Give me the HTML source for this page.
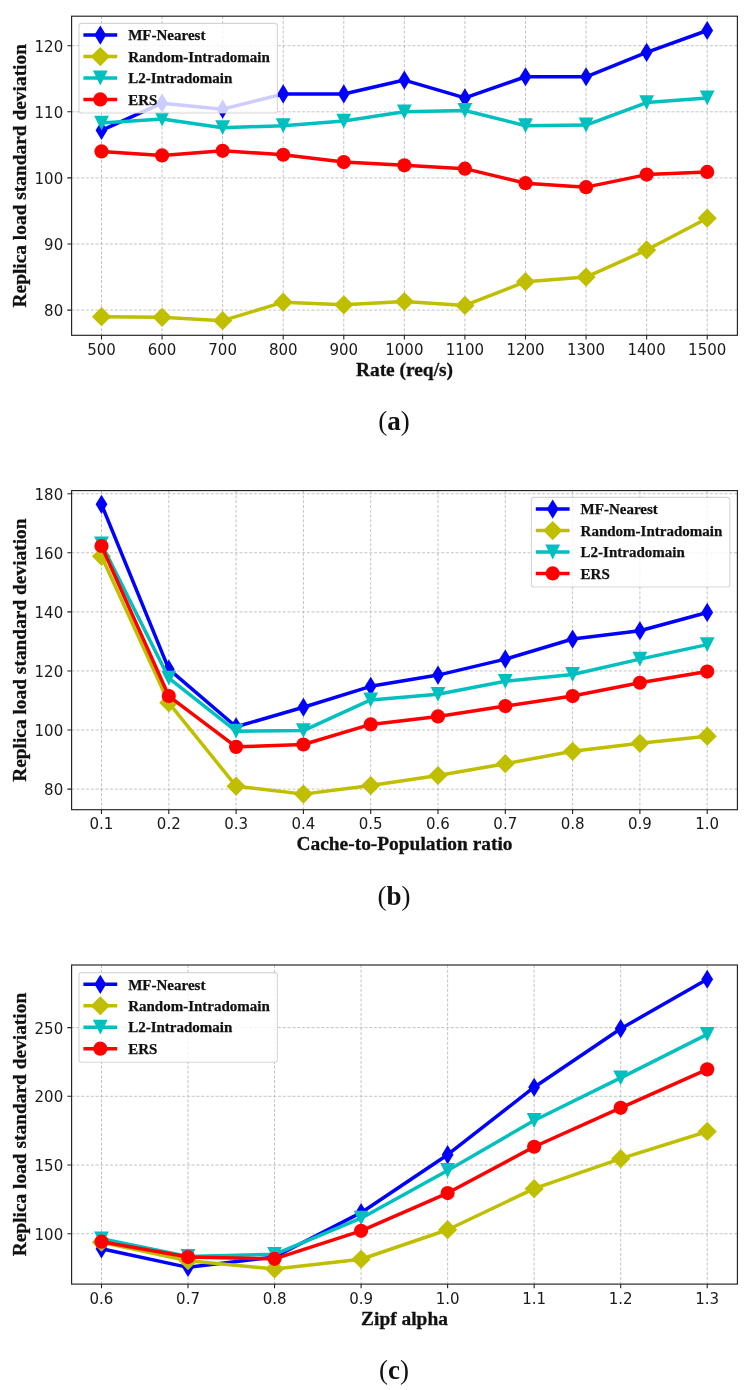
<!DOCTYPE html>
<html lang="en">
<head>
<meta charset="utf-8">
<title>Replica load standard deviation</title>
<style>
html,body{margin:0;padding:0;background:#fff;}
body{width:748px;height:1390px;overflow:hidden;}
svg{display:block;}
</style>
</head>
<body>
<svg width="748" height="1390" viewBox="0 0 748 1390">
<rect width="748" height="1390" fill="#fff"/>
<g>
<path d="M101.5 16.2V335.3M162.07 16.2V335.3M222.64 16.2V335.3M283.21 16.2V335.3M343.78 16.2V335.3M404.35 16.2V335.3M464.92 16.2V335.3M525.49 16.2V335.3M586.06 16.2V335.3M646.63 16.2V335.3M707.2 16.2V335.3M71.6 310.1H737.4M71.6 244H737.4M71.6 177.9H737.4M71.6 111.8H737.4M71.6 45.7H737.4" stroke="#b4b4b4" stroke-width="0.8" stroke-dasharray="3 1.8" fill="none"/>
<path d="M101.5 335.3v4.2M162.07 335.3v4.2M222.64 335.3v4.2M283.21 335.3v4.2M343.78 335.3v4.2M404.35 335.3v4.2M464.92 335.3v4.2M525.49 335.3v4.2M586.06 335.3v4.2M646.63 335.3v4.2M707.2 335.3v4.2M71.6 310.1h-4.2M71.6 244h-4.2M71.6 177.9h-4.2M71.6 111.8h-4.2M71.6 45.7h-4.2" stroke="#222" stroke-width="1.1" fill="none"/>
<polyline points="101.5,130.31 162.07,103.21 222.64,109.16 283.21,93.95 343.78,93.95 404.35,80.07 464.92,97.92 525.49,76.77 586.06,76.77 646.63,52.31 707.2,30.5" fill="none" stroke="#0000ff" stroke-width="3.5" stroke-linejoin="round"/>
<polygon points="101.5,120.71 107.4,130.31 101.5,139.91 95.6,130.31" fill="#0000ff"/>
<polygon points="162.07,93.61 167.97,103.21 162.07,112.81 156.17,103.21" fill="#0000ff"/>
<polygon points="222.64,99.56 228.54,109.16 222.64,118.76 216.74,109.16" fill="#0000ff"/>
<polygon points="283.21,84.35 289.11,93.95 283.21,103.55 277.31,93.95" fill="#0000ff"/>
<polygon points="343.78,84.35 349.68,93.95 343.78,103.55 337.88,93.95" fill="#0000ff"/>
<polygon points="404.35,70.47 410.25,80.07 404.35,89.67 398.45,80.07" fill="#0000ff"/>
<polygon points="464.92,88.32 470.82,97.92 464.92,107.52 459.02,97.92" fill="#0000ff"/>
<polygon points="525.49,67.17 531.39,76.77 525.49,86.37 519.59,76.77" fill="#0000ff"/>
<polygon points="586.06,67.17 591.96,76.77 586.06,86.37 580.16,76.77" fill="#0000ff"/>
<polygon points="646.63,42.71 652.53,52.31 646.63,61.91 640.73,52.31" fill="#0000ff"/>
<polygon points="707.2,20.9 713.1,30.5 707.2,40.1 701.3,30.5" fill="#0000ff"/>
<polyline points="101.5,316.71 162.07,317.37 222.64,320.68 283.21,302.17 343.78,304.81 404.35,301.51 464.92,305.47 525.49,281.68 586.06,277.05 646.63,249.95 707.2,218.22" fill="none" stroke="#bfbf00" stroke-width="3.5" stroke-linejoin="round"/>
<polygon points="101.5,307.11 111.1,316.71 101.5,326.31 91.9,316.71" fill="#bfbf00"/>
<polygon points="162.07,307.77 171.67,317.37 162.07,326.97 152.47,317.37" fill="#bfbf00"/>
<polygon points="222.64,311.08 232.24,320.68 222.64,330.28 213.04,320.68" fill="#bfbf00"/>
<polygon points="283.21,292.57 292.81,302.17 283.21,311.77 273.61,302.17" fill="#bfbf00"/>
<polygon points="343.78,295.21 353.38,304.81 343.78,314.41 334.18,304.81" fill="#bfbf00"/>
<polygon points="404.35,291.91 413.95,301.51 404.35,311.11 394.75,301.51" fill="#bfbf00"/>
<polygon points="464.92,295.87 474.52,305.47 464.92,315.07 455.32,305.47" fill="#bfbf00"/>
<polygon points="525.49,272.08 535.09,281.68 525.49,291.28 515.89,281.68" fill="#bfbf00"/>
<polygon points="586.06,267.45 595.66,277.05 586.06,286.65 576.46,277.05" fill="#bfbf00"/>
<polygon points="646.63,240.35 656.23,249.95 646.63,259.55 637.03,249.95" fill="#bfbf00"/>
<polygon points="707.2,208.62 716.8,218.22 707.2,227.82 697.6,218.22" fill="#bfbf00"/>
<polyline points="101.5,123.04 162.07,119.07 222.64,127.66 283.21,125.68 343.78,121.05 404.35,111.8 464.92,110.48 525.49,125.68 586.06,125.02 646.63,102.55 707.2,97.92" fill="none" stroke="#00bfbf" stroke-width="3.5" stroke-linejoin="round"/>
<polygon points="94.1,115.64 108.9,115.64 101.5,130.44" fill="#00bfbf"/>
<polygon points="154.67,111.67 169.47,111.67 162.07,126.47" fill="#00bfbf"/>
<polygon points="215.24,120.26 230.04,120.26 222.64,135.06" fill="#00bfbf"/>
<polygon points="275.81,118.28 290.61,118.28 283.21,133.08" fill="#00bfbf"/>
<polygon points="336.38,113.65 351.18,113.65 343.78,128.45" fill="#00bfbf"/>
<polygon points="396.95,104.4 411.75,104.4 404.35,119.2" fill="#00bfbf"/>
<polygon points="457.52,103.08 472.32,103.08 464.92,117.88" fill="#00bfbf"/>
<polygon points="518.09,118.28 532.89,118.28 525.49,133.08" fill="#00bfbf"/>
<polygon points="578.66,117.62 593.46,117.62 586.06,132.42" fill="#00bfbf"/>
<polygon points="639.23,95.15 654.03,95.15 646.63,109.95" fill="#00bfbf"/>
<polygon points="699.8,90.52 714.6,90.52 707.2,105.32" fill="#00bfbf"/>
<polyline points="101.5,151.46 162.07,155.43 222.64,150.8 283.21,154.77 343.78,162.04 404.35,165.34 464.92,168.65 525.49,183.19 586.06,187.15 646.63,174.6 707.2,171.95" fill="none" stroke="#ff0000" stroke-width="3.5" stroke-linejoin="round"/>
<circle cx="101.5" cy="151.46" r="7.1" fill="#ff0000"/>
<circle cx="162.07" cy="155.43" r="7.1" fill="#ff0000"/>
<circle cx="222.64" cy="150.8" r="7.1" fill="#ff0000"/>
<circle cx="283.21" cy="154.77" r="7.1" fill="#ff0000"/>
<circle cx="343.78" cy="162.04" r="7.1" fill="#ff0000"/>
<circle cx="404.35" cy="165.34" r="7.1" fill="#ff0000"/>
<circle cx="464.92" cy="168.65" r="7.1" fill="#ff0000"/>
<circle cx="525.49" cy="183.19" r="7.1" fill="#ff0000"/>
<circle cx="586.06" cy="187.15" r="7.1" fill="#ff0000"/>
<circle cx="646.63" cy="174.6" r="7.1" fill="#ff0000"/>
<circle cx="707.2" cy="171.95" r="7.1" fill="#ff0000"/>
<rect x="71.6" y="16.2" width="665.8" height="319.1" fill="none" stroke="#222" stroke-width="1.15"/>
<g font-family="'DejaVu Sans', 'Liberation Sans', sans-serif" font-size="15" fill="#1a1a1a">
<text x="101.5" y="354.7" text-anchor="middle">500</text>
<text x="162.07" y="354.7" text-anchor="middle">600</text>
<text x="222.64" y="354.7" text-anchor="middle">700</text>
<text x="283.21" y="354.7" text-anchor="middle">800</text>
<text x="343.78" y="354.7" text-anchor="middle">900</text>
<text x="404.35" y="354.7" text-anchor="middle">1000</text>
<text x="464.92" y="354.7" text-anchor="middle">1100</text>
<text x="525.49" y="354.7" text-anchor="middle">1200</text>
<text x="586.06" y="354.7" text-anchor="middle">1300</text>
<text x="646.63" y="354.7" text-anchor="middle">1400</text>
<text x="707.2" y="354.7" text-anchor="middle">1500</text>
<text x="63.2" y="316" text-anchor="end">80</text>
<text x="63.2" y="249.9" text-anchor="end">90</text>
<text x="63.2" y="183.8" text-anchor="end">100</text>
<text x="63.2" y="117.7" text-anchor="end">110</text>
<text x="63.2" y="51.6" text-anchor="end">120</text>
</g>
<g font-family="'Liberation Serif', 'Times New Roman', serif" font-weight="bold" fill="#111" stroke="#111" stroke-width="0.3">
<text x="404.5" y="375.7" font-size="19.4" text-anchor="middle">Rate (req/s)</text>
<text transform="translate(26.2 175.75) rotate(-90)" font-size="19.4" text-anchor="middle">Replica load standard deviation</text>
</g>
<rect x="79" y="23.4" width="198.4" height="89.6" rx="2.6" fill="#fff" fill-opacity="0.8" stroke="#ccc" stroke-opacity="0.8" stroke-width="1.1"/>
<g font-family="'Liberation Serif', 'Times New Roman', serif" font-weight="bold" font-size="15" fill="#111">
<path d="M83.4 35.1h33.8" stroke="#0000ff" stroke-width="3.5"/>
<polygon points="100.3,25.5 106.2,35.1 100.3,44.7 94.4,35.1" fill="#0000ff"/>
<text x="128.2" y="40.3" stroke="#111" stroke-width="0.25">MF-Nearest</text>
<path d="M83.4 56.55h33.8" stroke="#bfbf00" stroke-width="3.5"/>
<polygon points="100.3,46.95 109.9,56.55 100.3,66.15 90.7,56.55" fill="#bfbf00"/>
<text x="128.2" y="61.75" stroke="#111" stroke-width="0.25">Random-Intradomain</text>
<path d="M83.4 78h33.8" stroke="#00bfbf" stroke-width="3.5"/>
<polygon points="92.9,70.6 107.7,70.6 100.3,85.4" fill="#00bfbf"/>
<text x="128.2" y="83.2" stroke="#111" stroke-width="0.25">L2-Intradomain</text>
<path d="M83.4 99.45h33.8" stroke="#ff0000" stroke-width="3.5"/>
<circle cx="100.3" cy="99.45" r="7.1" fill="#ff0000"/>
<text x="128.2" y="104.65" stroke="#111" stroke-width="0.25">ERS</text>
</g>
<text x="394" y="430.4" font-family="'Liberation Serif', 'Times New Roman', serif" font-size="27" text-anchor="middle" fill="#111">(<tspan font-weight="bold">a</tspan>)</text>
</g>
<g>
<path d="M101.5 490.6V809.7M168.8 490.6V809.7M236.1 490.6V809.7M303.4 490.6V809.7M370.7 490.6V809.7M438 490.6V809.7M505.3 490.6V809.7M572.6 490.6V809.7M639.9 490.6V809.7M707.2 490.6V809.7M71.6 789.1H737.4M71.6 730.02H737.4M71.6 670.94H737.4M71.6 611.86H737.4M71.6 552.78H737.4M71.6 493.7H737.4" stroke="#b4b4b4" stroke-width="0.8" stroke-dasharray="3 1.8" fill="none"/>
<path d="M101.5 809.7v4.2M168.8 809.7v4.2M236.1 809.7v4.2M303.4 809.7v4.2M370.7 809.7v4.2M438 809.7v4.2M505.3 809.7v4.2M572.6 809.7v4.2M639.9 809.7v4.2M707.2 809.7v4.2M71.6 789.1h-4.2M71.6 730.02h-4.2M71.6 670.94h-4.2M71.6 611.86h-4.2M71.6 552.78h-4.2M71.6 493.7h-4.2" stroke="#222" stroke-width="1.1" fill="none"/>
<polyline points="101.5,504.33 168.8,669.17 236.1,726.77 303.4,707.27 370.7,686.3 438,675.08 505.3,659.12 572.6,639.04 639.9,630.77 707.2,612.45" fill="none" stroke="#0000ff" stroke-width="3.5" stroke-linejoin="round"/>
<polygon points="101.5,494.73 107.4,504.33 101.5,513.93 95.6,504.33" fill="#0000ff"/>
<polygon points="168.8,659.57 174.7,669.17 168.8,678.77 162.9,669.17" fill="#0000ff"/>
<polygon points="236.1,717.17 242,726.77 236.1,736.37 230.2,726.77" fill="#0000ff"/>
<polygon points="303.4,697.67 309.3,707.27 303.4,716.87 297.5,707.27" fill="#0000ff"/>
<polygon points="370.7,676.7 376.6,686.3 370.7,695.9 364.8,686.3" fill="#0000ff"/>
<polygon points="438,665.48 443.9,675.08 438,684.68 432.1,675.08" fill="#0000ff"/>
<polygon points="505.3,649.52 511.2,659.12 505.3,668.72 499.4,659.12" fill="#0000ff"/>
<polygon points="572.6,629.44 578.5,639.04 572.6,648.64 566.7,639.04" fill="#0000ff"/>
<polygon points="639.9,621.17 645.8,630.77 639.9,640.37 634,630.77" fill="#0000ff"/>
<polygon points="707.2,602.85 713.1,612.45 707.2,622.05 701.3,612.45" fill="#0000ff"/>
<polyline points="101.5,556.32 168.8,702.84 236.1,786.15 303.4,794.12 370.7,785.56 438,775.51 505.3,763.7 572.6,751.29 639.9,743.31 707.2,736.22" fill="none" stroke="#bfbf00" stroke-width="3.5" stroke-linejoin="round"/>
<polygon points="101.5,546.72 111.1,556.32 101.5,565.92 91.9,556.32" fill="#bfbf00"/>
<polygon points="168.8,693.24 178.4,702.84 168.8,712.44 159.2,702.84" fill="#bfbf00"/>
<polygon points="236.1,776.55 245.7,786.15 236.1,795.75 226.5,786.15" fill="#bfbf00"/>
<polygon points="303.4,784.52 313,794.12 303.4,803.72 293.8,794.12" fill="#bfbf00"/>
<polygon points="370.7,775.96 380.3,785.56 370.7,795.16 361.1,785.56" fill="#bfbf00"/>
<polygon points="438,765.91 447.6,775.51 438,785.11 428.4,775.51" fill="#bfbf00"/>
<polygon points="505.3,754.1 514.9,763.7 505.3,773.3 495.7,763.7" fill="#bfbf00"/>
<polygon points="572.6,741.69 582.2,751.29 572.6,760.89 563,751.29" fill="#bfbf00"/>
<polygon points="639.9,733.71 649.5,743.31 639.9,752.91 630.3,743.31" fill="#bfbf00"/>
<polygon points="707.2,726.62 716.8,736.22 707.2,745.82 697.6,736.22" fill="#bfbf00"/>
<polyline points="101.5,543.92 168.8,678.03 236.1,731.2 303.4,730.61 370.7,699.89 438,694.28 505.3,681.28 572.6,674.48 639.9,659.12 707.2,644.65" fill="none" stroke="#00bfbf" stroke-width="3.5" stroke-linejoin="round"/>
<polygon points="94.1,536.52 108.9,536.52 101.5,551.32" fill="#00bfbf"/>
<polygon points="161.4,670.63 176.2,670.63 168.8,685.43" fill="#00bfbf"/>
<polygon points="228.7,723.8 243.5,723.8 236.1,738.6" fill="#00bfbf"/>
<polygon points="296,723.21 310.8,723.21 303.4,738.01" fill="#00bfbf"/>
<polygon points="363.3,692.49 378.1,692.49 370.7,707.29" fill="#00bfbf"/>
<polygon points="430.6,686.88 445.4,686.88 438,701.68" fill="#00bfbf"/>
<polygon points="497.9,673.88 512.7,673.88 505.3,688.68" fill="#00bfbf"/>
<polygon points="565.2,667.08 580,667.08 572.6,681.88" fill="#00bfbf"/>
<polygon points="632.5,651.72 647.3,651.72 639.9,666.52" fill="#00bfbf"/>
<polygon points="699.8,637.25 714.6,637.25 707.2,652.05" fill="#00bfbf"/>
<polyline points="101.5,545.99 168.8,696.05 236.1,746.86 303.4,744.49 370.7,724.41 438,716.43 505.3,706.09 572.6,696.05 639.9,682.76 707.2,671.53" fill="none" stroke="#ff0000" stroke-width="3.5" stroke-linejoin="round"/>
<circle cx="101.5" cy="545.99" r="7.1" fill="#ff0000"/>
<circle cx="168.8" cy="696.05" r="7.1" fill="#ff0000"/>
<circle cx="236.1" cy="746.86" r="7.1" fill="#ff0000"/>
<circle cx="303.4" cy="744.49" r="7.1" fill="#ff0000"/>
<circle cx="370.7" cy="724.41" r="7.1" fill="#ff0000"/>
<circle cx="438" cy="716.43" r="7.1" fill="#ff0000"/>
<circle cx="505.3" cy="706.09" r="7.1" fill="#ff0000"/>
<circle cx="572.6" cy="696.05" r="7.1" fill="#ff0000"/>
<circle cx="639.9" cy="682.76" r="7.1" fill="#ff0000"/>
<circle cx="707.2" cy="671.53" r="7.1" fill="#ff0000"/>
<rect x="71.6" y="490.6" width="665.8" height="319.1" fill="none" stroke="#222" stroke-width="1.15"/>
<g font-family="'DejaVu Sans', 'Liberation Sans', sans-serif" font-size="15" fill="#1a1a1a">
<text x="101.5" y="829.1" text-anchor="middle">0.1</text>
<text x="168.8" y="829.1" text-anchor="middle">0.2</text>
<text x="236.1" y="829.1" text-anchor="middle">0.3</text>
<text x="303.4" y="829.1" text-anchor="middle">0.4</text>
<text x="370.7" y="829.1" text-anchor="middle">0.5</text>
<text x="438" y="829.1" text-anchor="middle">0.6</text>
<text x="505.3" y="829.1" text-anchor="middle">0.7</text>
<text x="572.6" y="829.1" text-anchor="middle">0.8</text>
<text x="639.9" y="829.1" text-anchor="middle">0.9</text>
<text x="707.2" y="829.1" text-anchor="middle">1.0</text>
<text x="63.2" y="795" text-anchor="end">80</text>
<text x="63.2" y="735.92" text-anchor="end">100</text>
<text x="63.2" y="676.84" text-anchor="end">120</text>
<text x="63.2" y="617.76" text-anchor="end">140</text>
<text x="63.2" y="558.68" text-anchor="end">160</text>
<text x="63.2" y="499.6" text-anchor="end">180</text>
</g>
<g font-family="'Liberation Serif', 'Times New Roman', serif" font-weight="bold" fill="#111" stroke="#111" stroke-width="0.3">
<text x="404.5" y="850.1" font-size="19.4" text-anchor="middle">Cache-to-Population ratio</text>
<text transform="translate(26.2 650.15) rotate(-90)" font-size="19.4" text-anchor="middle">Replica load standard deviation</text>
</g>
<rect x="531.4" y="497.4" width="198.4" height="89.6" rx="2.6" fill="#fff" fill-opacity="0.8" stroke="#ccc" stroke-opacity="0.8" stroke-width="1.1"/>
<g font-family="'Liberation Serif', 'Times New Roman', serif" font-weight="bold" font-size="15" fill="#111">
<path d="M535.8 509.1h33.8" stroke="#0000ff" stroke-width="3.5"/>
<polygon points="552.7,499.5 558.6,509.1 552.7,518.7 546.8,509.1" fill="#0000ff"/>
<text x="580.6" y="514.3" stroke="#111" stroke-width="0.25">MF-Nearest</text>
<path d="M535.8 530.55h33.8" stroke="#bfbf00" stroke-width="3.5"/>
<polygon points="552.7,520.95 562.3,530.55 552.7,540.15 543.1,530.55" fill="#bfbf00"/>
<text x="580.6" y="535.75" stroke="#111" stroke-width="0.25">Random-Intradomain</text>
<path d="M535.8 552h33.8" stroke="#00bfbf" stroke-width="3.5"/>
<polygon points="545.3,544.6 560.1,544.6 552.7,559.4" fill="#00bfbf"/>
<text x="580.6" y="557.2" stroke="#111" stroke-width="0.25">L2-Intradomain</text>
<path d="M535.8 573.45h33.8" stroke="#ff0000" stroke-width="3.5"/>
<circle cx="552.7" cy="573.45" r="7.1" fill="#ff0000"/>
<text x="580.6" y="578.65" stroke="#111" stroke-width="0.25">ERS</text>
</g>
<text x="394" y="904.8" font-family="'Liberation Serif', 'Times New Roman', serif" font-size="27" text-anchor="middle" fill="#111">(<tspan font-weight="bold">b</tspan>)</text>
</g>
<g>
<path d="M101.5 965V1284.1M188.03 965V1284.1M274.56 965V1284.1M361.09 965V1284.1M447.62 965V1284.1M534.15 965V1284.1M620.68 965V1284.1M707.21 965V1284.1M71.6 1233.7H737.4M71.6 1165H737.4M71.6 1096.3H737.4M71.6 1027.6H737.4" stroke="#b4b4b4" stroke-width="0.8" stroke-dasharray="3 1.8" fill="none"/>
<path d="M101.5 1284.1v4.2M188.03 1284.1v4.2M274.56 1284.1v4.2M361.09 1284.1v4.2M447.62 1284.1v4.2M534.15 1284.1v4.2M620.68 1284.1v4.2M707.21 1284.1v4.2M71.6 1233.7h-4.2M71.6 1165h-4.2M71.6 1096.3h-4.2M71.6 1027.6h-4.2" stroke="#222" stroke-width="1.1" fill="none"/>
<polyline points="101.5,1248.81 188.03,1267.36 274.56,1257.06 361.09,1212.68 447.62,1154.69 534.15,1087.23 620.68,1028.7 707.21,979.24" fill="none" stroke="#0000ff" stroke-width="3.5" stroke-linejoin="round"/>
<polygon points="101.5,1239.21 107.4,1248.81 101.5,1258.41 95.6,1248.81" fill="#0000ff"/>
<polygon points="188.03,1257.76 193.93,1267.36 188.03,1276.96 182.13,1267.36" fill="#0000ff"/>
<polygon points="274.56,1247.46 280.46,1257.06 274.56,1266.66 268.66,1257.06" fill="#0000ff"/>
<polygon points="361.09,1203.08 366.99,1212.68 361.09,1222.28 355.19,1212.68" fill="#0000ff"/>
<polygon points="447.62,1145.1 453.52,1154.69 447.62,1164.29 441.72,1154.69" fill="#0000ff"/>
<polygon points="534.15,1077.63 540.05,1087.23 534.15,1096.83 528.25,1087.23" fill="#0000ff"/>
<polygon points="620.68,1019.1 626.58,1028.7 620.68,1038.3 614.78,1028.7" fill="#0000ff"/>
<polygon points="707.21,969.64 713.11,979.24 707.21,988.84 701.31,979.24" fill="#0000ff"/>
<polyline points="101.5,1242.22 188.03,1260.77 274.56,1269.01 361.09,1259.26 447.62,1229.72 534.15,1188.63 620.68,1158.68 707.21,1131.47" fill="none" stroke="#bfbf00" stroke-width="3.5" stroke-linejoin="round"/>
<polygon points="101.5,1232.62 111.1,1242.22 101.5,1251.82 91.9,1242.22" fill="#bfbf00"/>
<polygon points="188.03,1251.17 197.63,1260.77 188.03,1270.37 178.43,1260.77" fill="#bfbf00"/>
<polygon points="274.56,1259.41 284.16,1269.01 274.56,1278.61 264.96,1269.01" fill="#bfbf00"/>
<polygon points="361.09,1249.66 370.69,1259.26 361.09,1268.86 351.49,1259.26" fill="#bfbf00"/>
<polygon points="447.62,1220.12 457.22,1229.72 447.62,1239.32 438.02,1229.72" fill="#bfbf00"/>
<polygon points="534.15,1179.03 543.75,1188.63 534.15,1198.23 524.55,1188.63" fill="#bfbf00"/>
<polygon points="620.68,1149.08 630.28,1158.68 620.68,1168.28 611.08,1158.68" fill="#bfbf00"/>
<polygon points="707.21,1121.87 716.81,1131.47 707.21,1141.07 697.61,1131.47" fill="#bfbf00"/>
<polyline points="101.5,1238.78 188.03,1256.51 274.56,1254.31 361.09,1218.17 447.62,1170.5 534.15,1120.48 620.68,1077.89 707.21,1034.33" fill="none" stroke="#00bfbf" stroke-width="3.5" stroke-linejoin="round"/>
<polygon points="94.1,1231.38 108.9,1231.38 101.5,1246.18" fill="#00bfbf"/>
<polygon points="180.63,1249.11 195.43,1249.11 188.03,1263.91" fill="#00bfbf"/>
<polygon points="267.16,1246.91 281.96,1246.91 274.56,1261.71" fill="#00bfbf"/>
<polygon points="353.69,1210.77 368.49,1210.77 361.09,1225.57" fill="#00bfbf"/>
<polygon points="440.22,1163.1 455.02,1163.1 447.62,1177.9" fill="#00bfbf"/>
<polygon points="526.75,1113.08 541.55,1113.08 534.15,1127.88" fill="#00bfbf"/>
<polygon points="613.28,1070.49 628.08,1070.49 620.68,1085.29" fill="#00bfbf"/>
<polygon points="699.81,1026.93 714.61,1026.93 707.21,1041.73" fill="#00bfbf"/>
<polyline points="101.5,1241.67 188.03,1257.06 274.56,1258.84 361.09,1230.81 447.62,1193.03 534.15,1146.73 620.68,1107.84 707.21,1069.37" fill="none" stroke="#ff0000" stroke-width="3.5" stroke-linejoin="round"/>
<circle cx="101.5" cy="1241.67" r="7.1" fill="#ff0000"/>
<circle cx="188.03" cy="1257.06" r="7.1" fill="#ff0000"/>
<circle cx="274.56" cy="1258.84" r="7.1" fill="#ff0000"/>
<circle cx="361.09" cy="1230.81" r="7.1" fill="#ff0000"/>
<circle cx="447.62" cy="1193.03" r="7.1" fill="#ff0000"/>
<circle cx="534.15" cy="1146.73" r="7.1" fill="#ff0000"/>
<circle cx="620.68" cy="1107.84" r="7.1" fill="#ff0000"/>
<circle cx="707.21" cy="1069.37" r="7.1" fill="#ff0000"/>
<rect x="71.6" y="965" width="665.8" height="319.1" fill="none" stroke="#222" stroke-width="1.15"/>
<g font-family="'DejaVu Sans', 'Liberation Sans', sans-serif" font-size="15" fill="#1a1a1a">
<text x="101.5" y="1303.5" text-anchor="middle">0.6</text>
<text x="188.03" y="1303.5" text-anchor="middle">0.7</text>
<text x="274.56" y="1303.5" text-anchor="middle">0.8</text>
<text x="361.09" y="1303.5" text-anchor="middle">0.9</text>
<text x="447.62" y="1303.5" text-anchor="middle">1.0</text>
<text x="534.15" y="1303.5" text-anchor="middle">1.1</text>
<text x="620.68" y="1303.5" text-anchor="middle">1.2</text>
<text x="707.21" y="1303.5" text-anchor="middle">1.3</text>
<text x="63.2" y="1239.6" text-anchor="end">100</text>
<text x="63.2" y="1170.9" text-anchor="end">150</text>
<text x="63.2" y="1102.2" text-anchor="end">200</text>
<text x="63.2" y="1033.5" text-anchor="end">250</text>
</g>
<g font-family="'Liberation Serif', 'Times New Roman', serif" font-weight="bold" fill="#111" stroke="#111" stroke-width="0.3">
<text x="404.5" y="1324.5" font-size="19.4" text-anchor="middle">Zipf alpha</text>
<text transform="translate(26.2 1124.55) rotate(-90)" font-size="19.4" text-anchor="middle">Replica load standard deviation</text>
</g>
<rect x="79" y="972.6" width="198.4" height="89.6" rx="2.6" fill="#fff" fill-opacity="0.8" stroke="#ccc" stroke-opacity="0.8" stroke-width="1.1"/>
<g font-family="'Liberation Serif', 'Times New Roman', serif" font-weight="bold" font-size="15" fill="#111">
<path d="M83.4 984.3h33.8" stroke="#0000ff" stroke-width="3.5"/>
<polygon points="100.3,974.7 106.2,984.3 100.3,993.9 94.4,984.3" fill="#0000ff"/>
<text x="128.2" y="989.5" stroke="#111" stroke-width="0.25">MF-Nearest</text>
<path d="M83.4 1005.75h33.8" stroke="#bfbf00" stroke-width="3.5"/>
<polygon points="100.3,996.15 109.9,1005.75 100.3,1015.35 90.7,1005.75" fill="#bfbf00"/>
<text x="128.2" y="1010.95" stroke="#111" stroke-width="0.25">Random-Intradomain</text>
<path d="M83.4 1027.2h33.8" stroke="#00bfbf" stroke-width="3.5"/>
<polygon points="92.9,1019.8 107.7,1019.8 100.3,1034.6" fill="#00bfbf"/>
<text x="128.2" y="1032.4" stroke="#111" stroke-width="0.25">L2-Intradomain</text>
<path d="M83.4 1048.65h33.8" stroke="#ff0000" stroke-width="3.5"/>
<circle cx="100.3" cy="1048.65" r="7.1" fill="#ff0000"/>
<text x="128.2" y="1053.85" stroke="#111" stroke-width="0.25">ERS</text>
</g>
<text x="394" y="1379.2" font-family="'Liberation Serif', 'Times New Roman', serif" font-size="27" text-anchor="middle" fill="#111">(<tspan font-weight="bold">c</tspan>)</text>
</g>
</svg>
</body>
</html>
